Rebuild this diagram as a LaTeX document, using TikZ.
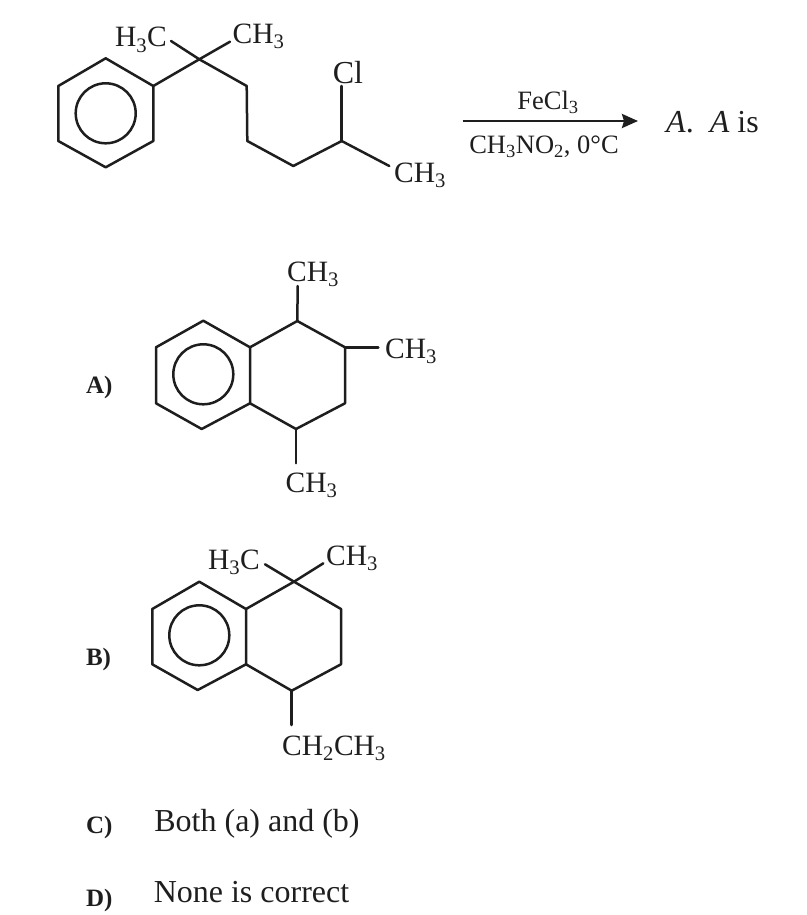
\documentclass[tikz,border=0pt]{standalone}
\usepackage{fontspec}
\setmainfont{Liberation Serif}
\usepackage{xcolor}
\usetikzlibrary{arrows.meta}
\definecolor{InkBlack}{RGB}{30,30,30}

\begin{document}
\begin{tikzpicture}[x=1pt, y=-1pt]
	\tikzset{
		b/.style={draw=InkBlack, line width=2.5pt, line join=round, line cap=round},
		t/.style={anchor=base, inner sep=0pt, yshift=-1pt, text=InkBlack, font=\fontsize{29.5}{30}\selectfont},
		p/.style={anchor=base, inner sep=0pt, yshift=-1pt, text=InkBlack, font=\fontsize{32}{34}\selectfont},
		r/.style={anchor=base, inner sep=0pt, yshift=-1pt, text=InkBlack, font=\fontsize{26.5}{28}\selectfont},
		o/.style={anchor=base, inner sep=0pt, yshift=-1pt, text=InkBlack, font=\fontsize{25}{26}\selectfont\bfseries}
	}
	\useasboundingbox (0,0) rectangle (806,915);
	
	% reactant
	\coordinate (p1) at (105.7,58.3);
	\coordinate (p2) at (153.3,86);
	\coordinate (p3) at (153.3,141);
	\coordinate (p4) at (105.7,167.3);
	\coordinate (p5) at (58.3,141);
	\coordinate (p6) at (58.3,86);
	\coordinate (q) at (199.3,59.3);
	\coordinate (c1) at (246.7,86);
	\coordinate (c2) at (247.3,141);
	\coordinate (c3) at (293.3,166);
	\coordinate (c4) at (341.7,141);
	\coordinate (qa) at (171,41);
	\coordinate (qb) at (230,41.7);
	\coordinate (cla) at (341.7,86);
	\coordinate (mea) at (389.3,166);
	\node[t] (hc0) at (141,46) {H\textsubscript{3}C};
	\node[t] (ch0) at (258.5,42.7) {CH\textsubscript{3}};
	\node[p] (cl0) at (348,82.7) {Cl};
	\node[t] (ch1) at (420,181.7) {CH\textsubscript{3}};
	\draw[b] (p1)--(p2)--(p3)--(p4)--(p5)--(p6)--cycle;
	\draw[b] (105.7,113.3) circle (30);
	\draw[b] (p2)--(q)--(c1)--(c2)--(c3)--(c4)--(mea);
	\draw[b] (qa)--(q)--(qb);
	\draw[b] (c4)--(cla);
	
	% reaction arrow
	\coordinate (ar0) at (462.7,121);
	\coordinate (ar1) at (638,121);
	\draw[b, line cap=butt, -{Stealth[length=16pt, width=14pt, inset=2pt]}] (ar0)--(ar1);
	\node[r] (fe) at (548,109) {FeCl\textsubscript{3}};
	\node[r] (ni) at (544,152.7) {CH\textsubscript{3}NO\textsubscript{2}, 0°C};
	\node[p] (isa) at (712.5,131) {\textit{A}.\hspace{16pt}\textit{A} is};
	
	% option A
	\node[o] (la) at (99.3,392.7) {A)};
	\coordinate (a1) at (203.3,320.7);
	\coordinate (a2) at (250,347.3);
	\coordinate (a3) at (250,403.3);
	\coordinate (a4) at (201.7,429);
	\coordinate (a5) at (156,403.3);
	\coordinate (a6) at (156,347.3);
	\coordinate (a7) at (297.3,321);
	\coordinate (a8) at (345,347.3);
	\coordinate (a9) at (345,403.3);
	\coordinate (a10) at (296,429);
	\coordinate (ae1) at (297.7,286);
	\coordinate (ae2) at (378.3,347.3);
	\coordinate (ae3) at (296,463.3);
	\node[t] (ach1) at (313,280) {CH\textsubscript{3}};
	\node[t] (ach2) at (411,357.7) {CH\textsubscript{3}};
	\node[t] (ach3) at (311.5,491.7) {CH\textsubscript{3}};
	\draw[b] (a1)--(a2)--(a3)--(a4)--(a5)--(a6)--cycle;
	\draw[b] (203.3,374.3) circle (30);
	\draw[b] (a2)--(a7)--(a8)--(a9)--(a10)--(a3);
	\draw[b] (a7)--(ae1);
	\draw[b] (a8)--(ae2);
	\draw[b] (a10)--(ae3);
	
	% option B
	\node[o] (lb) at (98.5,664) {B)};
	\coordinate (b1) at (199.3,581.7);
	\coordinate (b2) at (246,609);
	\coordinate (b3) at (246,664.3);
	\coordinate (b4) at (197.7,690);
	\coordinate (b5) at (152.3,664.3);
	\coordinate (b6) at (152.3,609);
	\coordinate (b7) at (294,581.7);
	\coordinate (b8) at (341,609);
	\coordinate (b9) at (341,664.3);
	\coordinate (b10) at (291.7,690.7);
	\coordinate (be1) at (265,564.3);
	\coordinate (be2) at (323.3,563.3);
	\coordinate (be3) at (291.7,725);
	\node[t] (bhc) at (234,568.3) {H\textsubscript{3}C};
	\node[t] (bch) at (352,564.3) {CH\textsubscript{3}};
	\node[t] (bet) at (334,754) {CH\textsubscript{2}CH\textsubscript{3}};
	\draw[b] (b1)--(b2)--(b3)--(b4)--(b5)--(b6)--cycle;
	\draw[b] (199.3,635.3) circle (30);
	\draw[b] (b2)--(b7)--(b8)--(b9)--(b10)--(b3);
	\draw[b] (be1)--(b7)--(be2);
	\draw[b] (b10)--(be3);
	
	% options C and D
	\node[o] (lc) at (99.3,832.7) {C)};
	\node[p] (tc) at (257,830.7) {Both (a) and (b)};
	\node[o] (ld) at (99.3,905) {D)};
	\node[p] (td) at (251.5,901.7) {None is correct};
\end{tikzpicture}
\end{document}
